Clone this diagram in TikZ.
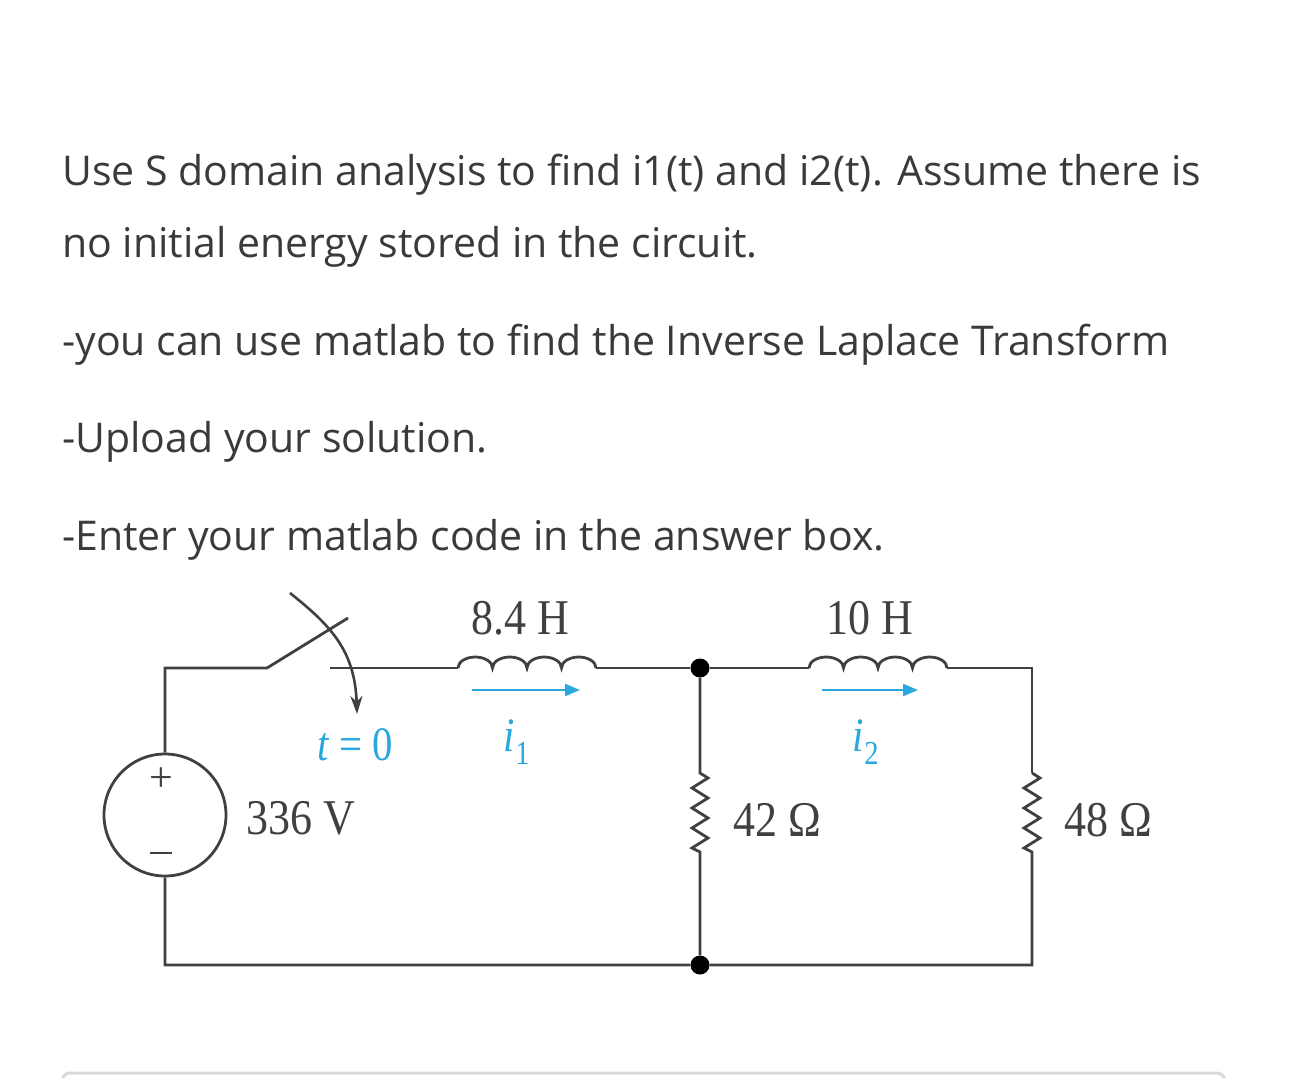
\documentclass[tikz,border=0pt]{standalone}
\usepackage{fontspec}
\setmainfont{Liberation Serif}
\newfontfamily\uisans{Open Sans}
\usetikzlibrary{arrows.meta}
\definecolor{txt}{HTML}{3A3A3A}
\definecolor{blu}{HTML}{2AA7DF}
\tikzset{
  wire/.style={line width=2.8pt,black!75},
  para/.style={anchor=base west,font=\uisans\fontsize{41}{48}\selectfont,text=txt,inner sep=0},
  clab/.style={font=\fontsize{50}{54}\selectfont,text=black!75,inner sep=0,xscale=0.88},
  blab/.style={font=\fontsize{48}{52}\selectfont,text=blu,inner sep=0,xscale=0.85},
  curr/.style={blu,line width=2.4pt,-{Triangle[length=15pt,width=12pt]}},
  dot/.style={circle,fill=black,inner sep=0,minimum size=19pt}
}
\begin{document}
\begin{tikzpicture}[x=1pt,y=-1pt]
\useasboundingbox (0,0) rectangle (1290,1077);
\node[para] (l1) at (62,185) {Use S domain analysis to find i1(t) and i2(t). Assume there is};
\node[para] (l2) at (62,257) {no initial energy stored in the circuit.};
\node[para] (l3) at (62,355) {-you can use matlab to find the Inverse Laplace Transform};
\node[para] (l4) at (62,452) {-Upload your solution.};
\node[para] (l5) at (62,550) {-Enter your matlab code in the answer box.};
% coordinates
\coordinate (tl) at (165,668);
\coordinate (bl) at (165,965);
\coordinate (sw1) at (267,668);
\coordinate (sw2) at (330,668);
\coordinate (swt) at (348,618);
\coordinate (L1a) at (458,668);
\coordinate (L1b) at (596,668);
\node[dot] (nt) at (700,668) {};
\node[dot] (nb) at (700,965) {};
\coordinate (L2a) at (809,668);
\coordinate (L2b) at (947,668);
\coordinate (tr) at (1032,668);
\coordinate (br) at (1032,965);
\coordinate (R1a) at (700,773);
\coordinate (R1b) at (700,857);
\coordinate (R2a) at (1032,773);
\coordinate (R2b) at (1032,857);
\node[circle,draw=black!75,line width=2.8pt,minimum size=122pt,inner sep=0] (src) at (165,815) {};
% wires
\draw[wire] (src.north) -- (tl) -- (sw1) -- (swt);
\draw[wire] (sw2) -- (L1a);
\draw[wire] (L1a) arc[start angle=180,end angle=360,x radius=17.25,y radius=11] arc[start angle=180,end angle=360,x radius=17.25,y radius=11] arc[start angle=180,end angle=360,x radius=17.25,y radius=11] arc[start angle=180,end angle=360,x radius=17.25,y radius=11] -- (L1b);
\draw[wire] (L1b) -- (nt) -- (L2a);
\draw[wire] (L2a) arc[start angle=180,end angle=360,x radius=17.25,y radius=11] arc[start angle=180,end angle=360,x radius=17.25,y radius=11] arc[start angle=180,end angle=360,x radius=17.25,y radius=11] arc[start angle=180,end angle=360,x radius=17.25,y radius=11] -- (L2b);
\draw[wire] (L2b) -- (tr) -- (R2a);
\draw[wire] (R2a) -- ++(8,5) -- ++(-16,10) -- ++(16,10) -- ++(-16,10) -- ++(16,10) -- ++(-16,10) -- ++(16,10) -- ++(-16,10) -- ++(8,4) -- (R2b) -- (br) -- (nb) -- (bl) -- (src.south);
\draw[wire] (nt) -- (R1a) -- ++(8,5) -- ++(-16,10) -- ++(16,10) -- ++(-16,10) -- ++(16,10) -- ++(-16,10) -- ++(16,10) -- ++(-16,10) -- ++(8,4) -- (R1b) -- (nb);
% switch arrow
\draw[black!75,line width=2.6pt,-{Stealth[length=18pt,width=12pt]}] (290,593) .. controls (330,625) and (355,650) .. (357,714);
\node[font=\fontsize{42}{42}\selectfont,text=black!75] (plus) at (161,780) {+};
\draw[black!75,line width=2.6pt] (150,853) -- (172,853);
\node[clab,anchor=west] (v) at (246,818) {336 V};
\node[clab] (l84) at (520,618) {8.4 H};
\node[clab] (l10) at (870,618) {10 H};
\node[clab,anchor=west] (r42) at (733,820) {42 Ω};
\node[clab,anchor=west] (r48) at (1064,820) {48 Ω};
\node[blab] (t0) at (355,745) {\textit{t} = 0};
\coordinate (a1s) at (472,690); \coordinate (a1e) at (580,690);
\coordinate (a2s) at (822,690); \coordinate (a2e) at (918,690);
\draw[curr] (a1s) -- (a1e);
\draw[curr] (a2s) -- (a2e);
\node[blab] (i1) at (517,742) {\textit{i}\textsubscript{1}};
\node[blab] (i2) at (866,742) {\textit{i}\textsubscript{2}};
\draw[black!15,line width=3pt,rounded corners=8pt] (62,1085) -- (62,1073) -- (1225,1073) -- (1225,1085);
\end{tikzpicture}
\end{document}
